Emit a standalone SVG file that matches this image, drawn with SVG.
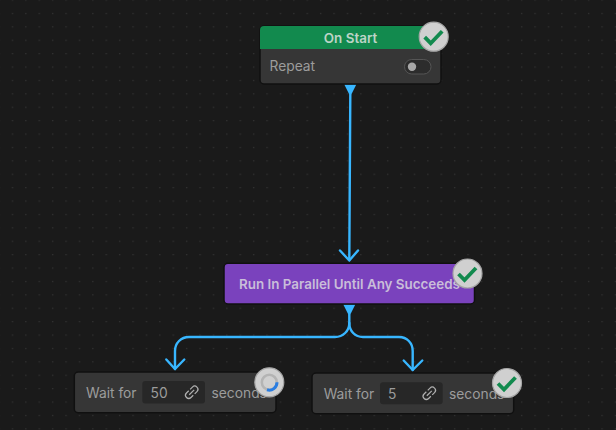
<svg xmlns="http://www.w3.org/2000/svg" width="616" height="430" viewBox="0 0 616 430">
<style>
text{font-family:Inter,"Liberation Sans",sans-serif}
.lab{font-size:13.800px;fill:#9c9c9c}
.title{font-size:13.400px;font-weight:600}
.node{fill:#363636;stroke:#101010;stroke-width:1.500}
.input{fill:#272727}
.wire{fill:none;stroke:#38b6ff;stroke-width:2.400;stroke-linecap:round;stroke-linejoin:round}
.tri{fill:#38b6ff}
.badge{fill:#d0d0d0;stroke:#a6a6a6;stroke-width:1.200}
.tick{fill:none;stroke:#128a4e;stroke-width:3.800}
.link{fill:none;stroke:#b0b0b0;stroke-width:1.200}
</style>
<defs>
<pattern id="dots" width="13.4" height="13.4" patternUnits="userSpaceOnUse" x="6" y="10">
<rect x="6" y="3" width="1" height="1" fill="#404040"/>
</pattern>
<g id="check"><circle class="badge" r="14.500"/><path class="tick" d="M-9 0.500L-3 6.500L8.500 -5.500"/></g>
<g id="lnk" transform="rotate(-45)">
<path class="link" d="M-1 -3.200H-4.200a3.200 3.200 0 0 0 0 6.400H-1"/>
<path class="link" d="M1 -3.200H4.200a3.200 3.200 0 0 1 0 6.400H1"/>
<path class="link" d="M-3.500 0H3.500"/>
</g>
</defs>
<rect width="616" height="430" fill="#1a1a1a"/>
<rect width="616" height="430" fill="url(#dots)"/>
<g id="connectors">
<path class="tri" d="M344.300 84.500H356.300L350.300 96.500Z"/>
<path class="wire" d="M350.300 95L349.300 260"/>
<path class="wire" d="M340 250.500L349.300 260.500L358 250.500"/>
<path class="tri" d="M343.300 304.500H355.300L349.300 316.500Z"/>
<path class="wire" d="M349.300 315V323C349.300 331 343 337 335 337H189C181 337 175 343 175 351V369"/>
<path class="wire" d="M349.300 323C349.300 331 355 337 363 337H399C407 337 412.700 343 412.700 351V370"/>
<path class="wire" d="M166.300 359.500L175 369L184.300 359.500"/>
<path class="wire" d="M403.700 360.500L412.700 370L422.300 360.500"/>
</g>
<g id="on-start">
<rect class="node" x="260" y="26" width="181" height="58" rx="4"/>
<path d="M260 49V30a4 4 0 0 1 4-4H437a4 4 0 0 1 4 4V49Z" fill="#128a4e"/>
<text class="title" x="350.500" y="42.500" text-anchor="middle" fill="#bcd4c6">On Start</text>
<text class="lab" x="269.500" y="71">Repeat</text>
<rect x="404.500" y="59.500" width="26.500" height="14.500" rx="7.250" fill="#2c2c2c" stroke="#555"/>
<circle cx="412" cy="66.800" r="4.200" fill="#a8a8a8"/>
<use href="#check" x="433.700" y="36.700"/>
</g>
<g id="run-parallel">
<rect x="224" y="263.300" width="250.500" height="40.700" rx="4" fill="#7a42bd" stroke="#101010" stroke-width="1.500"/>
<text class="title" x="349.500" y="289" text-anchor="middle" fill="#c9bdd9">Run In Parallel Until Any Succeeds</text>
<use href="#check" x="467.500" y="273.500"/>
</g>
<g id="wait-50">
<rect class="node" x="74.300" y="372" width="201.700" height="40.700" rx="4"/>
<text class="lab" x="86" y="398">Wait for</text>
<rect class="input" x="142.300" y="381" width="62.700" height="22.500" rx="3"/>
<text class="lab" x="150.500" y="398">50</text>
<use href="#lnk" x="191.700" y="392.300"/>
<text class="lab" x="211.500" y="398">seconds</text>
<circle class="badge" cx="269.300" cy="382.300" r="14.500"/>
<circle cx="269.300" cy="382.300" r="7.500" fill="none" stroke="#b4b4b4" stroke-width="2.500"/>
<path d="M277 382.300A7.700 7.700 0 0 1 267 389.800" fill="none" stroke="#2a7de1" stroke-width="3"/>
</g>
<g id="wait-5">
<rect class="node" x="312" y="373" width="201.700" height="40.700" rx="4"/>
<text class="lab" x="323.700" y="399">Wait for</text>
<rect class="input" x="380" y="382.300" width="62.700" height="22" rx="3"/>
<text class="lab" x="388" y="399">5</text>
<use href="#lnk" x="429.300" y="393.300"/>
<text class="lab" x="449" y="399">seconds</text>
<use href="#check" x="507" y="383"/>
</g>
</svg>
